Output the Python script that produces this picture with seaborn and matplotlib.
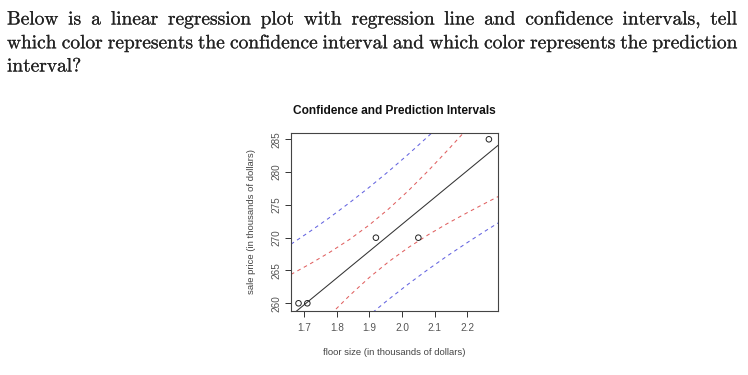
import matplotlib
matplotlib.use("Agg")
import matplotlib.pyplot as plt
import matplotlib.patheffects as pe
import seaborn as sns

# observed points (floor size, sale price)
floor_size = [1.683, 1.71, 1.92, 2.05, 2.266]
sale_price = [260, 260, 270, 270, 285]

# fitted line and bands at these floor sizes
grid_x = [1.66, 1.72, 1.78, 1.84, 1.90, 1.96, 2.02, 2.08, 2.14, 2.20, 2.26, 2.30]
fit_line = [258.12, 260.58, 263.03, 265.49, 267.94, 270.40, 272.86, 275.31, 277.77, 280.22, 282.68, 284.32]
conf_upper = [264.40, 266.05, 267.82, 269.76, 271.95, 274.43, 277.19, 280.19, 283.35, 286.62, 289.97, 292.23]
conf_lower = [251.84, 255.10, 258.24, 261.21, 263.94, 266.37, 268.52, 270.44, 272.19, 273.82, 275.39, 276.41]
pred_upper = [269.01, 271.02, 273.13, 275.36, 277.70, 280.16, 282.75, 285.45, 288.27, 291.18, 294.18, 296.22]
pred_lower = [247.23, 250.13, 252.93, 255.62, 258.19, 260.64, 262.96, 265.17, 267.27, 269.26, 271.18, 272.42]

x_ticks = [1.7, 1.8, 1.9, 2.0, 2.1, 2.2]
y_ticks = [260, 265, 270, 275, 280, 285]

question = [
    "Below is a linear regression plot with regression line and confidence intervals, tell",
    "which color represents the confidence interval and which color represents the prediction",
    "interval?",
]

sns.set_style("white")
plt.rcParams['font.family'] = ['Liberation Sans', 'DejaVu Sans']

W, H = 748, 375
fig = plt.figure(figsize=(W/100, H/100), dpi=100)
fig.patch.set_facecolor("white")

# question text, justified like the source page
renderer = fig.canvas.get_renderer()
left_px, right_px = 7, 737
baselines = [24.5, 48.3, 71.5]
qfam = ['cmr10', 'DejaVu Serif']
space_em = 0.26

# pick the size so line 2 fills the width with ordinary word spaces
words2 = question[1].split(" ")
probes = [fig.text(0, 0, w, family=qfam, size=10) for w in words2]
k = sum(p.get_window_extent(renderer).width for p in probes) / 10
for p in probes:
    p.remove()
qsize = (right_px - left_px) / (k + (len(words2) - 1) * space_em * 100 / 72)

heavy = [pe.withStroke(linewidth=0.15, foreground='#222222')]
qfont = dict(family=qfam, size=qsize, color='#222222', path_effects=heavy)
for i, line in enumerate(question):
    words = line.split(" ")
    texts = [fig.text(0, 1 - baselines[i]/H, w, va='baseline', ha='left', **qfont) for w in words]
    widths = [t.get_window_extent(renderer).width for t in texts]
    if i < len(question) - 1:
        gap = (right_px - left_px - sum(widths)) / (len(words) - 1)
    else:
        gap = qsize * space_em * 100 / 72
    xp = left_px
    for t, w in zip(texts, widths):
        t.set_x(xp / W)
        xp += w + gap

ax = fig.add_axes([291/W, 1 - 310.7/H, (497.7-291)/W, (310.7-133)/H])

lw = 0.75
sns.lineplot(x=grid_x, y=fit_line, ax=ax, color='#333333', lw=lw)
for band in (conf_upper, conf_lower):
    sns.lineplot(x=grid_x, y=band, ax=ax, color='#e06060', lw=lw, ls=(0, (3.5, 3.5)))
for band in (pred_upper, pred_lower):
    sns.lineplot(x=grid_x, y=band, ax=ax, color='#6464e0', lw=lw, ls=(0, (3.5, 3.5)))
sns.scatterplot(x=floor_size, y=sale_price, ax=ax, marker='o', s=16,
                facecolors='none', edgecolor='#222222', linewidth=0.7, zorder=5)

ax.set_xlim(1.66, 2.293)
ax.set_ylim(258.87, 285.96)
ax.set_xticks(x_ticks)
ax.set_xticklabels([f"{v:.1f}" for v in x_ticks])
ax.set_yticks(y_ticks)
ax.set_yticklabels([str(v) for v in y_ticks])
plt.setp(ax.get_yticklabels(), rotation=90, va='center')

ax.tick_params(axis='both', direction='out', length=4, width=0.7, color='#333333',
               labelsize=7.2, labelcolor='#555555', left=True, bottom=True)
ax.tick_params(axis='y', pad=3)
ax.tick_params(axis='x', pad=5)
for sp in ax.spines.values():
    sp.set_color('#444444')
    sp.set_linewidth(0.8)

ax.set_title("Confidence and Prediction Intervals", fontsize=8.6, fontweight='bold',
             color='#111111', pad=14)
ax.set_xlabel("floor size (in thousands of dollars)", fontsize=6.8, color='#444444', labelpad=11)
ax.set_ylabel("sale price (in thousands of dollars)", fontsize=6.8, color='#444444', labelpad=11)

fig.savefig("out.png", dpi=100, facecolor="white")
